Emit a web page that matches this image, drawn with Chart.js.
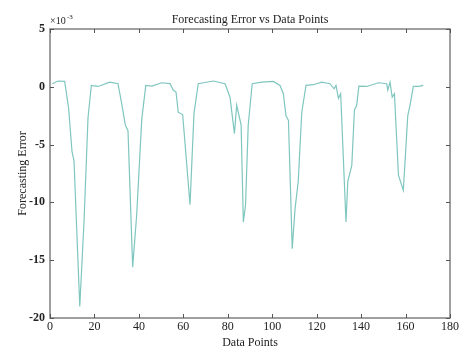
<!DOCTYPE html>
<html>
<head>
<meta charset="utf-8">
<script src="https://cdn.jsdelivr.net/npm/chart.js@4.4.1/dist/chart.umd.min.js"></script>
<style>
html,body{margin:0;padding:0;background:#fff;}
#wrap{width:474px;height:361px;}
</style>
</head>
<body>
<div id="wrap"><canvas id="chart" width="474" height="361"></canvas></div>
<script>
// data points (x index, error in units of 1e-3)
let xs=[1,3.6,6.6,8.4,9.9,10.8,13.4,15.3,17.1,18.6,21.6,26.9,30.6,32.4,33.9,35.1,37.2,39,41.3,43.1,45.8,50.3,54,55.5,56.7,57.7,59.7,63,64.8,66.7,73.5,78.8,81,83,84,86,87,88,89.2,91,95.3,100.5,103.5,105,106.2,107.3,109,110.3,111.7,113.3,115.2,118.5,122.3,126,127.8,128.7,129.8,130.8,133.2,134,135.8,137,138,139,142.5,147.8,151.5,152,153,154,155,156.8,159,161,162,163.5,165.8,168];
let errors=[0.27,0.5,0.47,-1.9,-5.6,-6.4,-19.0,-11.7,-2.7,0.12,0.03,0.4,0.27,-1.6,-3.3,-3.8,-15.6,-11.1,-2.8,0.12,0.06,0.35,0.27,-0.3,-0.45,-2.2,-2.4,-10.2,-2.3,0.27,0.5,0.27,-0.9,-4.05,-1.6,-3.3,-11.7,-10.2,-3.3,0.27,0.4,0.47,0.12,-0.6,-2.5,-2.9,-14.0,-10.5,-8.2,-2.2,0.12,0.18,0.4,0.27,-0.17,0.12,-1.0,-0.6,-11.7,-8.2,-6.8,-2.0,-1.6,0.06,0.03,0.35,0.27,-0.3,0.4,-0.9,-0.6,-7.65,-8.95,-2.5,-1.6,0.03,0.03,0.12];
let xTicks=[0,20,40,60,80,100,120,140,160,180];
let yTicks=[-20,-15,-10,-5,0,5];

let points=xs.map((x,i)=>({x:x,y:errors[i]}));

let serif="'Liberation Serif','DejaVu Serif',serif";

// box + inward ticks like matlab
let boxPlugin={
id:"box",
afterDraw(c){
let ctx=c.ctx;
let a=c.chartArea;
let sx=c.scales.x, sy=c.scales.y;
ctx.save();
ctx.strokeStyle="#808080";
ctx.lineWidth=1.5;
ctx.strokeRect(a.left,a.top,a.right-a.left,a.bottom-a.top);
ctx.lineWidth=1;
ctx.strokeStyle="#555";
ctx.beginPath();
xTicks.forEach(t=>{
let p=Math.round(sx.getPixelForValue(t))+0.5;
ctx.moveTo(p,a.bottom);ctx.lineTo(p,a.bottom-4);
ctx.moveTo(p,a.top);ctx.lineTo(p,a.top+4);
});
yTicks.forEach(t=>{
let p=Math.round(sy.getPixelForValue(t))+0.5;
ctx.moveTo(a.left,p);ctx.lineTo(a.left+4,p);
ctx.moveTo(a.right,p);ctx.lineTo(a.right-4,p);
});
ctx.stroke();
ctx.fillStyle="#222";
ctx.font="10px "+serif;
ctx.textAlign="left";
ctx.textBaseline="alphabetic";
ctx.fillText("\u00d710",a.left,a.top-5);
ctx.font="7px "+serif;
ctx.fillText("-3",a.left+17,a.top-10);
ctx.font="12px "+serif;
ctx.textAlign="center";
ctx.fillText("Forecasting Error vs Data Points",(a.left+a.right)/2,a.top-6);
ctx.restore();
}
};

let chart=new Chart(document.getElementById("chart").getContext("2d"),{
type:"line",
data:{
datasets:[{
data:points,
borderColor:"#7fc6bf",
borderWidth:1.2,
pointRadius:0,
tension:0,
fill:false
}]
},
options:{
responsive:false,
animation:false,
layout:{padding:{left:0,right:24,top:29,bottom:0}},
plugins:{legend:{display:false},tooltip:{enabled:false}},
scales:{
x:{
type:"linear",
min:0,max:180,
afterBuildTicks(s){s.ticks=xTicks.map(v=>({value:v}));},
afterFit(s){s.height=43;},
grid:{display:false,drawTicks:false},
border:{display:false},
ticks:{color:"#222",font:{family:serif,size:12},padding:2,maxRotation:0},
title:{display:true,text:"Data Points",color:"#222",font:{family:serif,size:12},padding:{top:0,bottom:11}}
},
y:{
min:-20,max:5,
afterBuildTicks(s){s.ticks=yTicks.map(v=>({value:v}));},
afterFit(s){s.width=50;},
grid:{display:false,drawTicks:false},
border:{display:false},
ticks:{color:"#222",font:{family:serif,size:12,weight:"bold"},padding:5},
title:{display:true,text:"Forecasting Error",color:"#222",font:{family:serif,size:12},padding:{top:16,bottom:0}}
}
}
},
plugins:[boxPlugin]
});
</script>
</body>
</html>
